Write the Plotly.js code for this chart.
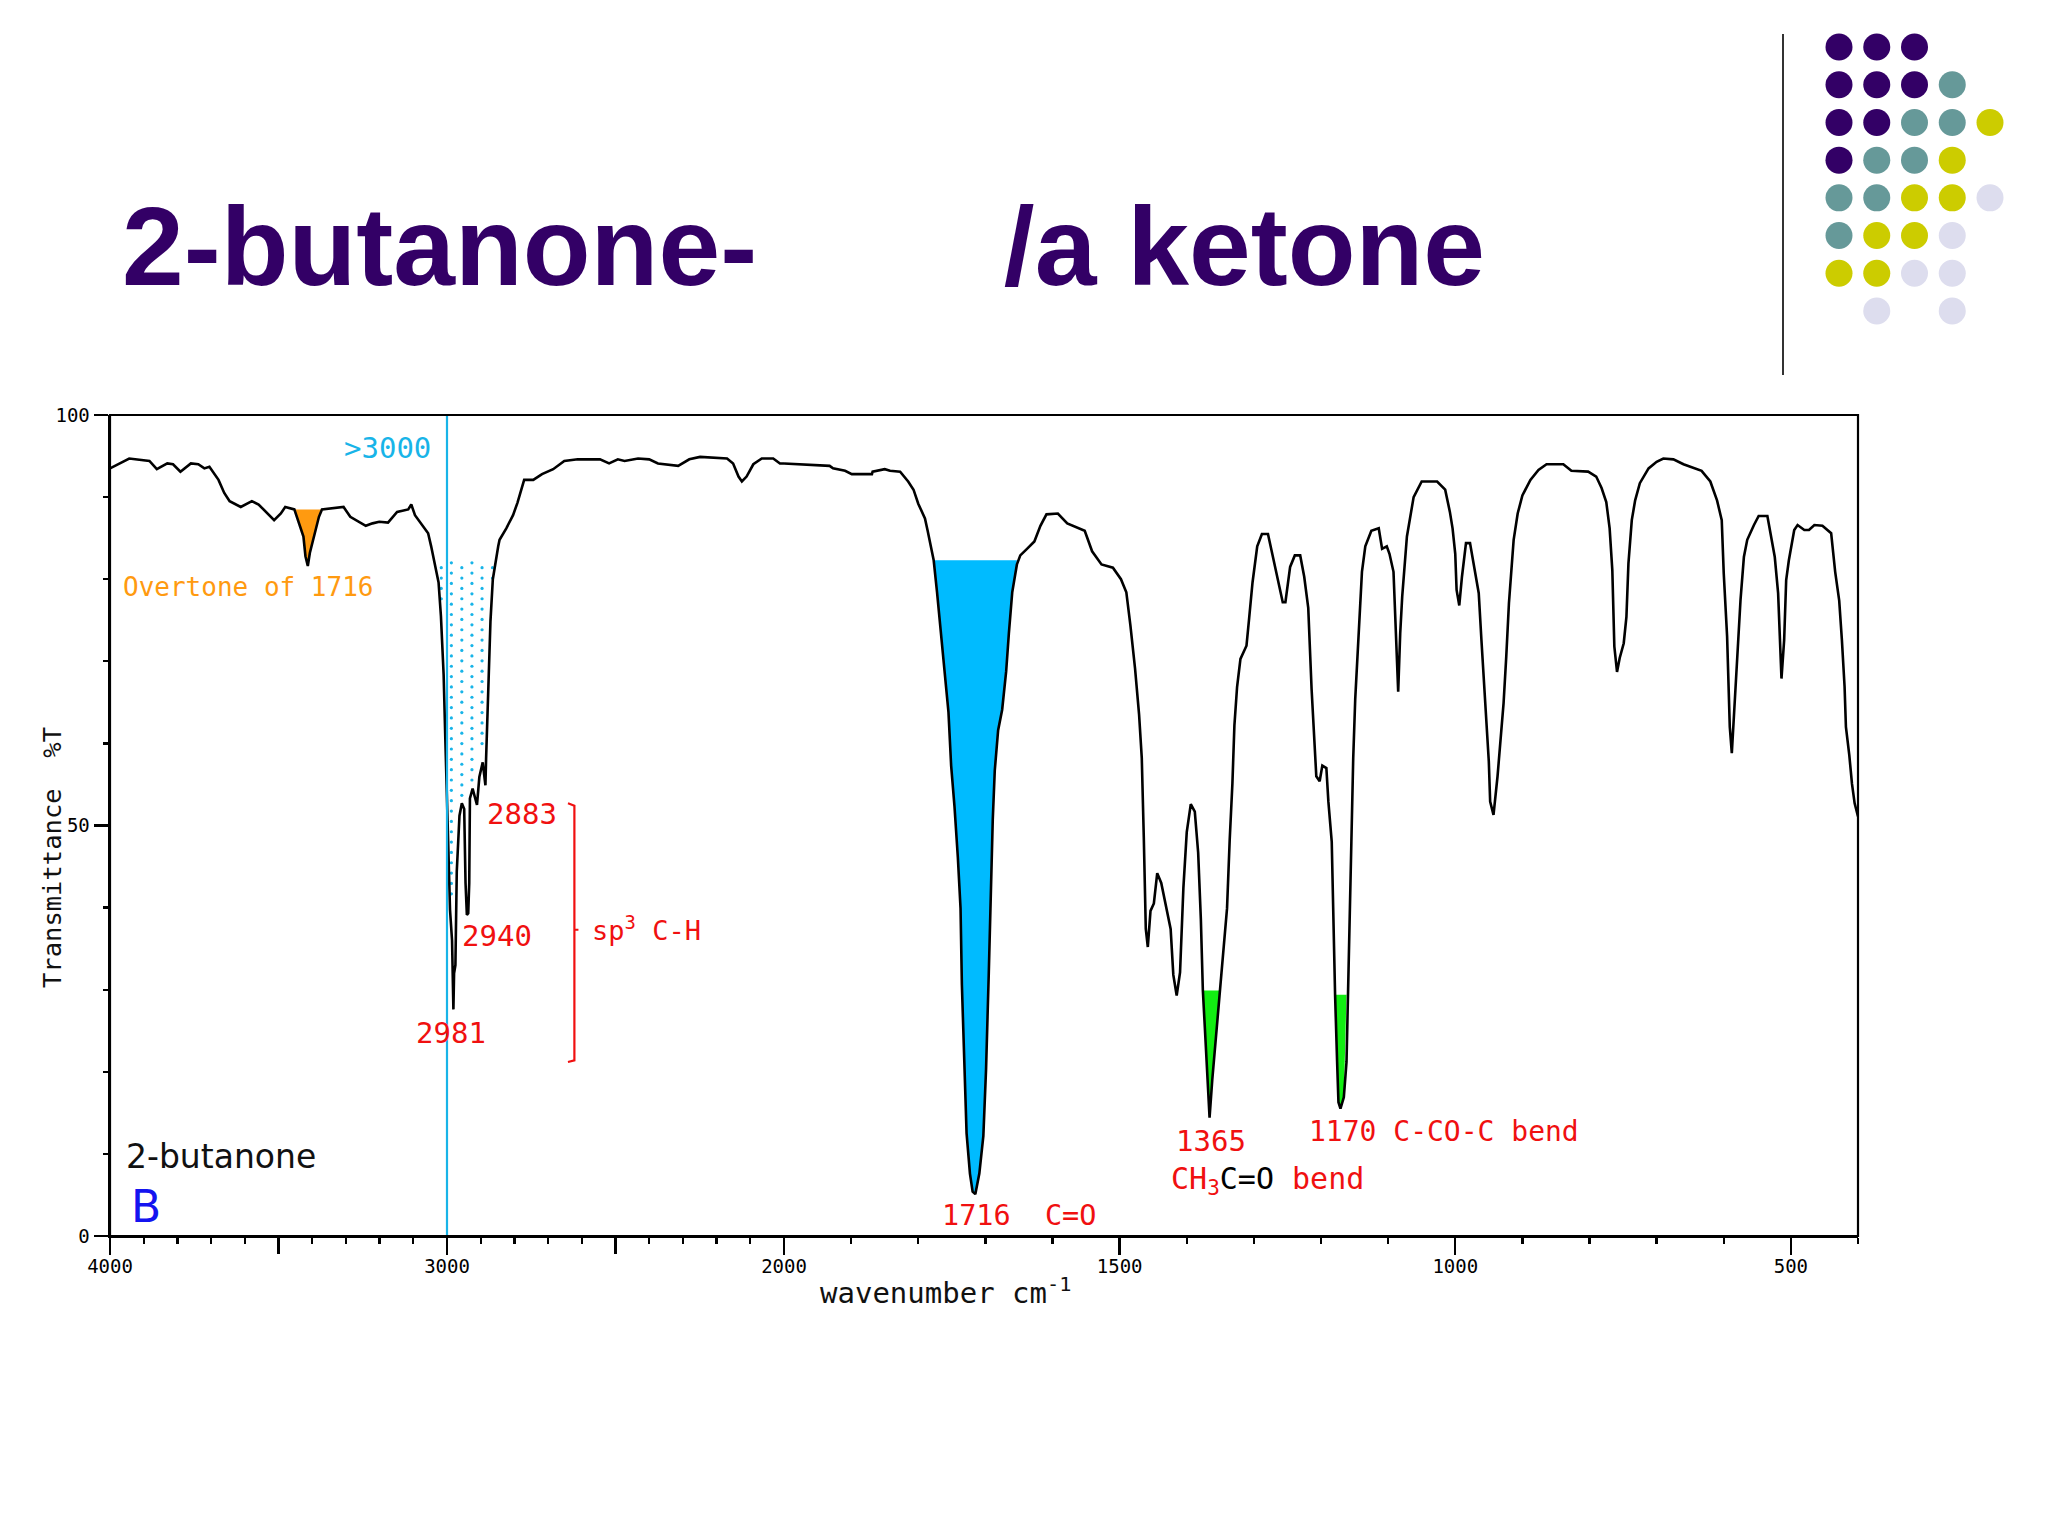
<!DOCTYPE html>
<html>
<head>
<meta charset="utf-8">
<script src="https://cdn.plot.ly/plotly-3.0.1.min.js"></script>
<style>html,body{margin:0;padding:0;background:#fff}</style>
</head>
<body>
<div id="chart" style="width:2048px;height:1536px"></div>
<script>
// Spectrum above the axis scale change (wavenumber cm-1, %T)
const wnHigh = [4000,3980,3943,3883,3861,3830,3813,3791,3760,3738,3720,3705,3678,3661,3645,3612,3579,3559,3532,3513,3493,3480,3453,3437,3426,3420,3413,3407,3393,3380,3371,3327,3307,3287,3254,3241,3221,3201,3175,3148,3115,3106,3095,3075,3056,3047,3038,3025,3018,3010,3005,3000,2995,2991,2985,2983,2981,2979,2975,2971,2963,2956,2949,2945,2941,2937,2934,2932,2924,2911,2904,2894,2886,2884,2879,2871,2864,2857,2848,2844,2824,2804,2791,2771,2744,2718,2685,2652,2612,2546,2519,2493,2473,2433,2400,2374,2314,2281,2249,2169,2151,2135,2125,2111,2091,2066,2032,2012,2000];
const tHigh = [93.5,93.9,94.7,94.4,93.4,94.1,94,93.1,94.1,94,93.5,93.7,92.1,90.5,89.5,88.8,89.5,89.1,88,87.2,88,88.8,88.5,86.4,85.2,82.8,81.6,83.2,85.6,87.6,88.5,88.7,88.8,87.6,86.8,86.5,86.8,87,86.9,88.2,88.5,89.1,87.8,86.6,85.6,84,82,79.6,75.5,68.4,60.6,53.1,46.4,39.7,36,28,27.6,32,33,44.4,51.2,52.7,52,43,39.1,39.3,43,53.3,54.5,52.5,55.9,57.7,54.9,58.1,63.8,74.9,80,82,84,84.8,86.2,87.8,89.3,92.1,92.1,92.8,93.4,94.4,94.6,94.6,94.1,94.6,94.4,94.7,94.6,94.1,93.8,94.6,94.9,94.7,94.1,92.5,91.9,92.5,94,94.7,94.7,94.1,94.1];

// Spectrum below the axis scale change
const wnLow = [2000,1979,1932,1927,1909,1899,1869,1868,1850,1842,1827,1815,1807,1800,1790,1786,1777,1772,1766,1760,1755,1751,1746,1741,1737,1735,1731,1728,1723,1719,1715,1709,1703,1699,1695,1692,1689,1686,1681,1675,1669,1665,1660,1653,1648,1638,1627,1618,1609,1592,1578,1552,1541,1527,1510,1498,1490,1484,1477,1471,1467,1464,1461,1458,1454,1449,1444,1438,1430,1424,1420,1415,1410,1405,1400,1394,1388,1383,1379,1376,1373,1369,1366,1362,1355,1350,1345,1340,1336,1332,1329,1325,1320,1311,1307,1302,1295,1288,1279,1272,1265,1257,1253,1246,1239,1231,1225,1219,1214,1209,1207,1202,1198,1192,1189,1184,1182,1179,1176,1174,1171,1166,1162,1159,1156,1152,1149,1145,1139,1134,1125,1114,1109,1102,1098,1092,1088,1085,1082,1079,1072,1062,1050,1027,1015,1008,1004,1000,998,994,990,984,978,972,965,961,958,954,950,948,943,937,933,928,924,920,916,913,907,900,888,876,864,839,827,802,790,782,775,770,766,763,759,755,749,745,742,737,732,725,712,700,690,675,660,633,620,610,603,600,595,591,588,584,580,575,570,565,555,548,535,529,524,519,516,514,510,507,503,495,490,480,473,465,453,440,434,428,424,420,418,413,409,405,400];
const tLow = [94.1,94,93.8,93.5,93.2,92.8,92.8,93.1,93.4,93.2,93.1,91.9,90.9,89.2,87.4,85.9,82.3,78.4,73.4,68.8,63.8,57.3,52.3,46.1,39.9,30.6,21.2,12.5,7.6,5.4,5.1,7.6,12.2,20.3,31.8,41.4,50.7,56.7,61.6,64.1,68.8,73.4,78.4,81.8,82.9,83.7,84.6,86.5,87.9,88,86.8,85.9,83.4,81.8,81.4,80,78.4,74.4,69.1,63.5,58.2,48.6,37.4,35.2,39.6,40.5,44.2,43,39.9,37.4,31.8,29.3,32.1,42.4,49.2,52.6,51.7,46.7,38.6,29.9,25.3,19.4,14.4,19,25.6,29.9,34.3,39.9,48.3,55.1,62.2,66.9,70.3,71.9,75.3,79.6,84,85.5,85.5,82.8,80.3,77.2,77.2,81.5,82.9,82.9,80.3,76.5,66.6,59.8,56,55.4,57.3,57,52.9,48,39,29.3,21.2,16.3,15.5,16.9,21.2,32.7,46.7,58.2,65.4,72.2,80.9,84,85.9,86.2,83.7,84,83.1,80.9,72.8,66.3,73.4,77.9,85.2,90,91.9,91.9,90.9,88.2,86.2,83.1,78.7,76.8,80.3,84.4,84.4,81.5,78.3,72.6,68.5,64.1,57.8,52.9,51.3,56,60,64.9,70.6,77.1,81.5,84.8,88,90.2,92.1,93.3,94,94,93.2,93.1,92.5,91.1,89.4,86.2,81.1,71.8,68.7,70.4,72.2,75.4,81.9,87.2,89.6,91.7,93.5,94.3,94.7,94.6,94,93.2,91.9,89.6,87.2,80.7,73,62,58.8,64.9,71.4,77.5,82.7,84.8,86.6,87.7,87.7,85.2,82.7,78.3,72.6,67.9,72.6,79.9,82.3,86,86.6,86,86,86.6,86.5,85.6,80.9,77.4,72.6,66.9,62,58.6,55.1,52.7,51.1];

// Shaded peak bands: [from, to, level]
const bandOvertone = [3453, 3371, 88.5];
const bandCarbonyl = [1777, 1653, 82.3];
const bandMethyl = [1376, 1350, 29.9];
const bandEster = [1179, 1162, 29.4];

// Stippled C-H region columns
const stippleWn = [3017, 2987, 2956, 2926, 2896, 2865];
const stippleTop = [81.4, 82, 81.4, 82, 81.4, 81.4];
const stippleBottom = [76.4, 40.9, 52.6, 54.4, 58.8, 80];

// Bracket around the sp3 C-H peaks
const bracketWn = [2641, 2622, 2622, 2610, 2622, 2622, 2641];
const bracketT = [52.7, 52.4, 37.3, 37.3, 37.3, 21.4, 21.2];

// Tick labels
const highTicks = [4000, 3000, 2000];
const highTickText = ['4000', '3000', '2000'];
const unlabelledTicks = [3500, 2500];
const lowTicks = [1500, 1000, 500];
const lowTickText = ['1500', '1000', '500'];
const yTicks = [0, 50, 100];

// Corner dot decoration, read row by row
const dotRows = [0,0,0, 1,1,1,1, 2,2,2,2,2, 3,3,3,3, 4,4,4,4,4, 5,5,5,5, 6,6,6,6, 7,7];
const dotCols = [0,1,2, 0,1,2,3, 0,1,2,3,4, 0,1,2,3, 0,1,2,3,4, 0,1,2,3, 0,1,2,3, 1,3];
const dotKinds = ['P','P','P','P','P','P','T','P','P','T','T','Y','P','T','T','Y','T','T','Y','Y','L','T','Y','Y','L','Y','Y','L','L','L','L'];
const dotPalette = {P:'#330066', T:'#669999', Y:'#CCCC00', L:'#DDDDEE'};

const W = 2048, H = 1536;
const px = v => v / W, py = v => 1 - v / H;
const MONO = '"DejaVu Sans Mono", monospace';
const RED = '#F01010', BLUE = '#18B4E8', ORANGE = '#FF9A10';

function band(wn, t, b) {
  const xs = [b[0]], ys = [b[2]];
  wn.forEach((w, i) => { if (w < b[0] && w > b[1]) { xs.push(w); ys.push(Math.min(t[i], b[2])); } });
  xs.push(b[1]); ys.push(b[2]);
  return {x: xs, y: ys};
}
function fillTrace(b, wn, t, color, xaxis) {
  const p = band(wn, t, b);
  return {x: p.x, y: p.y, xaxis, yaxis: 'y', mode: 'none', type: 'scatter', fill: 'toself', fillcolor: color, hoverinfo: 'skip'};
}

const stipX = [], stipY = [];
stippleWn.forEach((w, i) => {
  for (let v = stippleTop[i]; v >= stippleBottom[i]; v -= 1.26) { stipX.push(w); stipY.push(v); }
});

const traces = [
  fillTrace(bandOvertone, wnHigh, tHigh, '#FF9A10', 'x'),
  fillTrace(bandCarbonyl, wnLow, tLow, '#00BBFF', 'x2'),
  fillTrace(bandMethyl, wnLow, tLow, '#12EE12', 'x2'),
  fillTrace(bandEster, wnLow, tLow, '#12EE12', 'x2'),
  {x: stipX, y: stipY, xaxis: 'x', yaxis: 'y', mode: 'markers', type: 'scatter', marker: {size: 3.2, color: BLUE}, hoverinfo: 'skip'},
  {x: wnHigh, y: tHigh, xaxis: 'x', yaxis: 'y', mode: 'lines', type: 'scatter', line: {color: '#000', width: 2.6}},
  {x: wnLow, y: tLow, xaxis: 'x2', yaxis: 'y', mode: 'lines', type: 'scatter', line: {color: '#000', width: 2.6}},
  {x: [3000, 3000], y: [0, 100], xaxis: 'x', yaxis: 'y', mode: 'lines', type: 'scatter', line: {color: BLUE, width: 2.2}},
  {x: bracketWn, y: bracketT, xaxis: 'x', yaxis: 'y', mode: 'lines', type: 'scatter', line: {color: RED, width: 2.2}},
  {x: dotCols, y: dotRows, xaxis: 'x3', yaxis: 'y2', mode: 'markers', type: 'scatter', cliponaxis: false,
   marker: {size: 27, color: dotKinds.map(k => dotPalette[k])}, hoverinfo: 'skip'},
  {x: unlabelledTicks, y: [0, 0], xaxis: 'x4', yaxis: 'y', mode: 'markers', type: 'scatter', marker: {size: 1, opacity: 0}, hoverinfo: 'skip'}
];

const axisCommon = {showgrid: false, zeroline: false, showline: true, linecolor: '#000', linewidth: 2.4,
  ticks: 'outside', ticklen: 17, tickwidth: 2.4, tickcolor: '#000', tickmode: 'array', ticklabelstandoff: -5,
  tickfont: {family: MONO, size: 19, color: '#000'},
  minor: {ticks: 'outside', ticklen: 6, tickwidth: 2.4, tickcolor: '#000', dtick: 100, tick0: 0, showgrid: false}};

function label(text, x, y, size, color, family, angle) {
  return {text, x: px(x), y: py(y), xref: 'paper', yref: 'paper', showarrow: false, textangle: angle || 0,
    xanchor: 'center', yanchor: 'middle', font: {family: family || MONO, size, color}};
}

const annotations = [
  label('&gt;3000', 387, 448, 29, BLUE),
  label('Overtone of 1716', 248, 587, 26, ORANGE),
  label('2883', 522, 814, 29, RED),
  label('2940', 497, 936, 29, RED),
  label('2981', 451, 1033, 29, RED),
  label('sp<sup>3</sup> C-H', 646, 928, 27, RED),
  label('2-butanone', 221, 1156, 33, '#111', '"DejaVu Sans", sans-serif'),
  label('B', 146, 1206, 44, '#1414F0', '"DejaVu Sans", sans-serif'),
  label('1716  C=O', 1019, 1215, 28.5, RED),
  label('1365', 1211, 1141, 29, RED),
  label('CH<sub>3</sub><span style="color:#000">C=O</span> bend', 1267, 1180, 30, RED),
  label('1170 C-CO-C bend', 1444, 1131, 28, RED),
  label('wavenumber cm<sup>-1</sup>', 945, 1291, 29, '#111'),
  label('Transmittance  %T', 52, 858, 25.5, '#111', MONO, -90)
];

const layout = {
  width: W, height: H, margin: {l: 0, r: 0, t: 0, b: 0}, showlegend: false,
  paper_bgcolor: '#fff', plot_bgcolor: 'rgba(0,0,0,0)',
  title: {text: '2-butanone-\u00A0\u00A0\u00A0\u00A0\u00A0\u00A0\u00A0\u00A0/a ketone', x: px(122), xref: 'paper', xanchor: 'left', y: py(246), yref: 'paper', yanchor: 'middle',
    font: {family: '"Liberation Sans", Arial, sans-serif', size: 111, color: '#330066', weight: 700}},
  xaxis: Object.assign({}, axisCommon, {domain: [px(110), px(784)], range: [4000, 2000], anchor: 'y', tickvals: highTicks, ticktext: highTickText}),
  xaxis2: Object.assign({}, axisCommon, {domain: [px(784), px(1858)], range: [2000, 400], anchor: 'y', tickvals: lowTicks, ticktext: lowTickText}),
  xaxis4: {overlaying: 'x', domain: [px(110), px(784)], range: [4000, 2000], anchor: 'y', showgrid: false, zeroline: false, showline: false, showticklabels: false,
    ticks: 'outside', ticklen: 17, tickwidth: 2.4, tickcolor: '#000', tickmode: 'array', tickvals: unlabelledTicks},
  yaxis: {domain: [1 - 1236 / H, 1 - 415 / H], range: [0, 100], anchor: 'x', showgrid: false, zeroline: false, showline: true, linecolor: '#000', linewidth: 2.4,
    ticks: 'outside', ticklen: 14, tickwidth: 2.4, tickcolor: '#000', tickmode: 'array', tickvals: yTicks, ticktext: yTicks.map(String),
    tickfont: {family: MONO, size: 19, color: '#000'},
    minor: {ticks: 'outside', ticklen: 5, tickwidth: 2.4, tickcolor: '#000', dtick: 10, tick0: 0, showgrid: false}},
  xaxis3: {visible: false, domain: [px(1839), px(1990)], range: [0, 4], anchor: 'y2', fixedrange: true},
  yaxis2: {visible: false, domain: [1 - 311 / H, 1 - 47 / H], range: [7, 0], anchor: 'x3', fixedrange: true},
  shapes: [
    {type: 'rect', xref: 'paper', yref: 'paper', x0: px(110), x1: px(1858), y0: py(1236), y1: py(415), line: {color: '#000', width: 2.2}},
    {type: 'line', xref: 'paper', yref: 'paper', x0: px(1783), x1: px(1783), y0: py(34), y1: py(375), line: {color: '#333', width: 2}}
  ],
  annotations
};

Plotly.newPlot('chart', traces, layout, {displayModeBar: false, staticPlot: true});
</script>
</body>
</html>
